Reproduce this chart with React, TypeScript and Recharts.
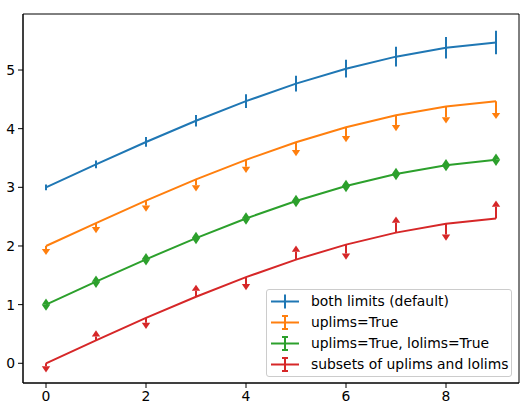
import { ComposedChart, Line, Scatter, XAxis, YAxis, ErrorBar, ReferenceArea } from "recharts";

const xs = [0, 1, 2, 3, 4, 5, 6, 7, 8, 9];
const bothLimits = [3.0, 3.391, 3.773, 4.135, 4.469, 4.768, 5.023, 5.228, 5.378, 5.469];
const uplimsOnly = [2.0, 2.391, 2.773, 3.135, 3.469, 3.768, 4.023, 4.228, 4.378, 4.469];
const upAndLo = [1.0, 1.391, 1.773, 2.135, 2.469, 2.768, 3.023, 3.228, 3.378, 3.469];
const subsets = [0.0, 0.391, 0.773, 1.135, 1.469, 1.768, 2.023, 2.228, 2.378, 2.469];
const yErr = [0.05, 0.067, 0.083, 0.1, 0.117, 0.133, 0.15, 0.167, 0.183, 0.2];
const redUplims = [true, false, true, false, true, false, true, false, true, false];

const labels = [
  "both limits (default)",
  "uplims=True",
  "uplims=True, lolims=True",
  "subsets of uplims and lolims",
];
const colors = ["#1f77b4", "#ff7f0e", "#2ca02c", "#d62728"];
const xTicks = [0, 2, 4, 6, 8];
const yTicks = [0, 1, 2, 3, 4, 5];
const xDomain = [-0.46, 9.46];
const yDomain = [-0.336, 5.955];

const rows = xs.map((x, i) => ({
  x,
  blue: bothLimits[i],
  blueErr: [yErr[i], yErr[i]],
  orange: uplimsOnly[i],
  orangeErr: [yErr[i], 0],
  green: upAndLo[i],
  red: subsets[i],
  redErr: redUplims[i] ? [yErr[i], 0] : [0, yErr[i]],
}));

const orangeDown = xs.map((x, i) => ({ x, y: uplimsOnly[i] - yErr[i] }));
const greenPts = xs.map((x, i) => ({ x, y: upAndLo[i] }));
const redDown = xs.filter((_, i) => redUplims[i]).map((x) => ({ x, y: subsets[x] - yErr[x] }));
const redUp = xs.filter((_, i) => !redUplims[i]).map((x) => ({ x, y: subsets[x] + yErr[x] }));

const W = 4.2;
const H = 6.2;

const caretDown = (color: string) => (props: any) => {
  const { cx, cy } = props;
  return <polygon points={`${cx - W},${cy} ${cx + W},${cy} ${cx},${cy + H}`} fill={color} />;
};
const caretUp = (color: string) => (props: any) => {
  const { cx, cy } = props;
  return <polygon points={`${cx - W},${cy} ${cx + W},${cy} ${cx},${cy - H}`} fill={color} />;
};

const font = "DejaVu Sans, sans-serif";

function Handle({ i }: { i: number }) {
  const c = colors[i];
  return (
    <svg width={28} height={21} style={{ display: "block" }}>
      <line x1={0} x2={28} y1={10.5} y2={10.5} stroke={c} strokeWidth={2} />
      <line x1={14} x2={14} y1={3.5} y2={17.5} stroke={c} strokeWidth={2} />
      {i > 0 && (
        <>
          <line x1={11} x2={17} y1={4} y2={4} stroke={c} strokeWidth={2} />
          <line x1={11} x2={17} y1={17} y2={17} stroke={c} strokeWidth={2} />
        </>
      )}
    </svg>
  );
}

export default function App() {
  return (
    <div style={{ position: "absolute", left: 0, top: 0, width: 531, height: 416, background: "#fff" }}>
      <ComposedChart
        width={531}
        height={416}
        data={rows}
        margin={{ top: 14, right: 12, left: 0, bottom: 0 }}
      >
        <XAxis
          dataKey="x"
          type="number"
          domain={xDomain}
          ticks={xTicks}
          allowDataOverflow
          height={33}
          tickSize={5}
          tickMargin={3}
          stroke="#000"
          tick={{ fill: "#000", fontSize: 13.9, fontFamily: font }}
        />
        <YAxis
          type="number"
          domain={yDomain}
          ticks={yTicks}
          allowDataOverflow
          width={23}
          tickSize={5}
          tickMargin={3}
          stroke="#000"
          tick={{ fill: "#000", fontSize: 13.9, fontFamily: font }}
        />
        <ReferenceArea
          x1={xDomain[0]}
          x2={xDomain[1]}
          y1={yDomain[0]}
          y2={yDomain[1]}
          fill="none"
          stroke="#000"
          strokeWidth={1}
        />
        <Line dataKey="blue" stroke={colors[0]} strokeWidth={2} dot={false} isAnimationActive={false}>
          <ErrorBar dataKey="blueErr" direction="y" width={0} stroke={colors[0]} strokeWidth={2} />
        </Line>
        <Line dataKey="orange" stroke={colors[1]} strokeWidth={2} dot={false} isAnimationActive={false}>
          <ErrorBar dataKey="orangeErr" direction="y" width={0} stroke={colors[1]} strokeWidth={2} />
        </Line>
        <Scatter data={orangeDown} dataKey="y" shape={caretDown(colors[1])} isAnimationActive={false} legendType="none" />
        <Line dataKey="green" stroke={colors[2]} strokeWidth={2} dot={false} isAnimationActive={false} />
        <Scatter data={greenPts} dataKey="y" shape={caretUp(colors[2])} isAnimationActive={false} legendType="none" />
        <Scatter data={greenPts} dataKey="y" shape={caretDown(colors[2])} isAnimationActive={false} legendType="none" />
        <Line dataKey="red" stroke={colors[3]} strokeWidth={2} dot={false} isAnimationActive={false}>
          <ErrorBar dataKey="redErr" direction="y" width={0} stroke={colors[3]} strokeWidth={2} />
        </Line>
        <Scatter data={redDown} dataKey="y" shape={caretDown(colors[3])} isAnimationActive={false} legendType="none" />
        <Scatter data={redUp} dataKey="y" shape={caretUp(colors[3])} isAnimationActive={false} legendType="none" />
      </ComposedChart>
      <div
        style={{
          position: "absolute",
          left: 266,
          top: 289,
          width: 244,
          height: 85,
          border: "1px solid #cccccc",
          borderRadius: 3,
          background: "rgba(255,255,255,0.8)",
          fontFamily: font,
          fontSize: 13.9,
          color: "#000",
          paddingTop: 1,
          boxSizing: "content-box",
        }}
      >
        {labels.map((l, i) => (
          <div key={l} style={{ display: "flex", alignItems: "center", height: 21 }}>
            <div style={{ marginLeft: 4, marginRight: 12 }}>
              <Handle i={i} />
            </div>
            <span style={{ whiteSpace: "nowrap", lineHeight: "21px" }}>{l}</span>
          </div>
        ))}
      </div>
    </div>
  );
}
